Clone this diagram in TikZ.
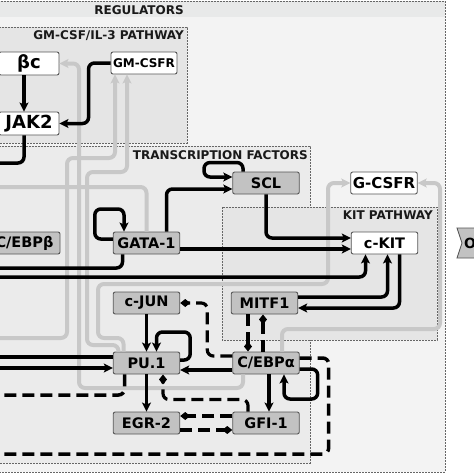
\documentclass[tikz,border=0pt]{standalone}
\usepackage{fontspec}
\setmainfont{DejaVu Sans}
\usetikzlibrary{arrows.meta}
\definecolor{regbg}{HTML}{F3F3F3}
\definecolor{reghead}{HTML}{E8E9E9}
\definecolor{boxbg}{HTML}{E5E5E5}
\definecolor{nodegray}{HTML}{C2C2C2}
\definecolor{linkgray}{HTML}{C8C8C8}
\definecolor{edge}{HTML}{555555}
\begin{document}
\begin{tikzpicture}[x=1pt,y=1pt,
    gene/.style={draw=edge,line width=0.9pt,fill=nodegray,rounded corners=2pt,
        minimum width=66.5pt,minimum height=22pt,inner sep=0pt,
        font=\fontsize{14.5}{14.5}\selectfont\bfseries},
    receptor/.style={gene,fill=white},
    region/.style={draw=black!60,dash pattern=on 2pt off 1pt,line width=0.8pt},
    title/.style={font=\fontsize{12}{12}\selectfont\bfseries,text=black!90,inner sep=0pt},
    act/.style={line width=3.5pt,rounded corners=6pt,-{Stealth[length=9pt,width=9pt,inset=2pt]}},
    link/.style={line width=3.5pt,rounded corners=6pt},
    inh/.style={line width=3.2pt,rounded corners=6pt,-{Diamond[length=10pt,width=8pt]}},
    weak/.style={dash pattern=on 12pt off 6pt},
    soft/.style={line width=4pt,draw=linkgray,rounded corners=6pt,
        -{Stealth[length=9pt,width=9pt,inset=2pt]}}
]
    \useasboundingbox (0,0) rectangle (474,-474);
    \clip (0,0) rectangle (474,-474);
    \fill[white] (0,0) rectangle (474,-474);

    \fill[regbg] (-10,-1) rectangle (445,-472);
    \fill[reghead] (-10,-1) rectangle (445,-17);
    \draw[region] (-10,-1) rectangle (445,-472);
    \filldraw[region,fill=boxbg] (-10,-27) rectangle (187,-143);
    \filldraw[region,fill=boxbg!60!regbg] (-10,-146) rectangle (310,-463);
    \filldraw[region,fill=boxbg] (222,-207) rectangle (437,-340);

    \node[title,anchor=base] (regtitle) at (139,-14) {REGULATORS};
    \node[title,anchor=base east] (gmtitle) at (184,-39) {GM-CSF/IL-3 PATHWAY};
    \node[title,anchor=base east] (tftitle) at (308,-159) {TRANSCRIPTION FACTORS};
    \node[title,anchor=base east] (kittitle) at (433,-219) {KIT PATHWAY};

    \node[receptor,minimum width=60pt,minimum height=23pt,font=\fontsize{18}{18}\selectfont\bfseries] (bc) at (29,-63.5) {βc};
    \node[receptor,minimum width=60pt,minimum height=23pt,font=\fontsize{18}{18}\selectfont\bfseries] (jak) at (29,-123.5) {JAK2};
    \node[receptor,minimum width=66pt,font=\fontsize{12}{12}\selectfont\bfseries] (gmcsfr) at (144,-63) {GM-CSFR};
    \node[gene] (scl) at (266,-183) {SCL};
    \node[receptor,font=\fontsize{15}{15}\selectfont\bfseries] (gcsfr) at (384,-183) {G-CSFR};
    \node[receptor] (ckit) at (384.5,-243) {c-KIT};
    \node[gene] (gata) at (146.5,-243) {GATA-1};
    \node[gene,minimum width=71pt] (cebpb) at (24.5,-243) {C/EBPβ};
    \node[gene] (cjun) at (146.5,-303) {c-JUN};
    \node[gene] (mitf) at (264.5,-303) {MITF1};
    \node[gene] (pu) at (146.5,-363) {PU.1};
    \node[gene] (cebpa) at (266,-363) {C/EBPα};
    \node[gene] (egr) at (146.5,-423) {EGR-2};
    \node[gene] (gfi) at (266,-423) {GFI-1};

    \draw[draw=edge,fill=nodegray,line width=0.9pt] (457,-228) -- (480,-228) -- (480,-258) -- (457,-258) -- (462,-243) -- cycle;
    \node[anchor=west,inner sep=0pt,font=\fontsize{14}{14}\selectfont\bfseries] (outtxt) at (464,-243) {O};

    \coordinate (w1) at (-10,-163);
    \coordinate (w2) at (-10,-268);
    \coordinate (w3) at (-10,-277);
    \coordinate (w4) at (-10,-357);
    \coordinate (w5) at (-10,-368);
    \coordinate (w6) at (-10,-395);
    \coordinate (w7) at (-10,-454);
    \coordinate (w8) at (-10,-338);
    \coordinate (w9) at (-10,-187);

    \draw[soft] ([xshift=-23pt]cebpa.south) |- (79,-388) |- (bc.east);
    \draw[soft] ([xshift=-23pt]pu.north) |- (98,-338) |- (328,-284) |- (gcsfr.west);
    \draw[soft] ([xshift=16pt]cebpa.north) |- (440,-329) |- (gcsfr.east);
    \draw[soft] ([xshift=-28pt]pu.north) |- (87,-345) |- (127,-172) -- ([xshift=-17pt]gmcsfr.south);
    \draw[soft] (w8) -| (67,-158) -| ([xshift=-29pt]gmcsfr.south);
    \draw[soft,-] (gata.north) |- (w9);

    \draw[act] ([xshift=-5pt]bc.south) -- ([xshift=-5pt]jak.north);
    \draw[act] (gmcsfr.west) -- ++(-22,0) |- (jak.east);
    \draw[link] ([xshift=-5pt]jak.south) |- (w1);
    \draw[act] ([xshift=-23pt]scl.north) -- ++(0,9) -- ++(-39,0) |- ([yshift=6pt]scl.west);
    \draw[act] ([xshift=20pt]gata.north) |- ([yshift=-6pt]scl.west);
    \draw[act] ([yshift=4pt]gata.west) -- ++(-18,0) -- ++(0,30) -| ([xshift=-22.5pt]gata.north);
    \draw[act] ([yshift=-6pt]gata.east) -- ([yshift=-6pt]ckit.west);
    \draw[act] (scl.south) |- ([yshift=5pt]ckit.west);
    \draw[link] ([xshift=-24pt]gata.south) |- (w2);
    \draw[act] (w3) -| ([xshift=-19pt]ckit.south);
    \draw[act] ([yshift=6pt]mitf.east) -| ([xshift=3pt]ckit.south);
    \draw[act] ([xshift=15pt]ckit.south) |- ([yshift=-5pt]mitf.east);
    \draw[act] (cjun.south) -- (pu.north);
    \draw[act] ([yshift=3pt]pu.east) -- ++(10,0) -- ++(0,28) -| ([xshift=10pt]pu.north);
    \draw[link] ([yshift=6pt]pu.west) -- (w4);
    \draw[act] (w5) -- ([yshift=-5pt]pu.west);
    \draw[act] ([yshift=-7pt]cebpa.west) -- ([yshift=-7pt]pu.east);
    \draw[act] (pu.south) -- (egr.north);
    \draw[act] ([xshift=3pt]cebpa.south) -- ([xshift=3pt]gfi.north);
    \draw[act] ([yshift=-6pt]cebpa.east) -- ++(18,0) -- ++(0,-30) -| ([xshift=18pt]cebpa.south);
    \draw[link,weak] ([yshift=5pt]cebpa.east) -- ++(29,0) |- (w7);
    \draw[link,weak] ([xshift=-22pt]pu.south) |- (w6);
    \draw[inh,weak] ([xshift=-18pt]gfi.north) -- ++(0,12) -| ([xshift=16.5pt]pu.south);
    \draw[inh,weak] ([yshift=7pt]gfi.west) -- ([yshift=7pt]egr.east);
    \draw[inh,weak] ([yshift=-7pt]egr.east) -- ([yshift=-7pt]gfi.west);
    \draw[inh,weak] ([xshift=-16.5pt]mitf.south) -- ([xshift=-16.5pt]mitf.south |- cebpa.north);
    \draw[inh,weak] ([xshift=-3pt]cebpa.north) -- ([xshift=-3pt]cebpa.north |- mitf.south);
    \draw[inh,weak] ([yshift=7pt]cebpa.west) -- ++(-25,0) |- (cjun.east);
\end{tikzpicture}
\end{document}
